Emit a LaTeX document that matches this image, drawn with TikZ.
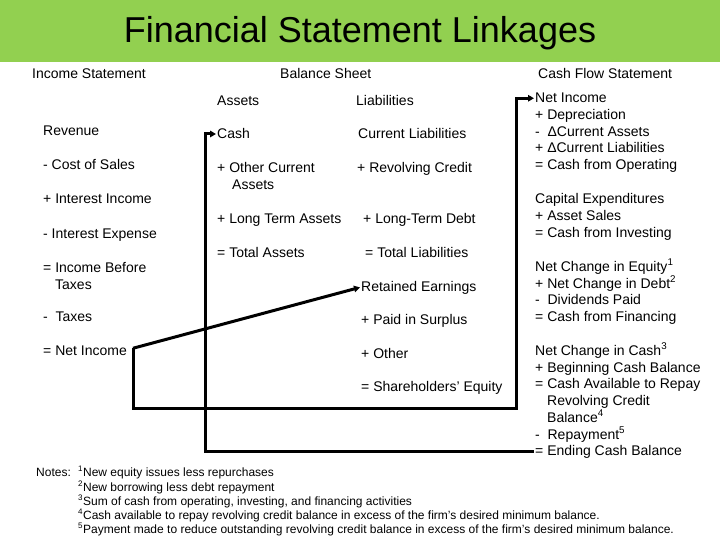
\documentclass[tikz,border=0pt]{standalone}
\usepackage{fontspec}
\setmainfont{Liberation Sans}
\usetikzlibrary{arrows.meta}
\definecolor{bandgreen}{HTML}{92D050}
\tikzset{
  item/.style={anchor=base west,inner sep=1pt,font=\fontsize{14}{16.8}\selectfont},
  note/.style={anchor=base west,inner sep=1pt,font=\fontsize{12}{14.3}\selectfont},
  link/.style={line width=3pt},
  linkarrow/.style={link,-{Triangle[length=6pt,width=6.5pt]}}
}
\begin{document}
\begin{tikzpicture}[x=1pt,y=-1pt]
\useasboundingbox (0,0) rectangle (720,540);
\fill[bandgreen] (0,0) rectangle (720,62);
\node[anchor=base,font=\fontsize{36}{40}\selectfont] (title) at (360,43) {Financial Statement Linkages};
% column heads
\node[item] (ishead) at (31,79) {Income Statement};
\node[item] (bshead) at (279,79) {Balance Sheet};
\node[item] (cfhead) at (537,79) {Cash Flow Statement};
% income statement
\node[item] (isrev) at (42,136) {Revenue};
\node[item] (iscos) at (42,170) {- Cost of Sales};
\node[item] (isii) at (42,204) {+ Interest Income};
\node[item] (isie) at (42,238) {- Interest Expense};
\node[item] (isibt) at (42,272) {= Income Before};
\node[item] (isibtb) at (54,289) {Taxes};
\node[item] (istax) at (42,321) {-~ Taxes};
\node[item] (isni) at (42,355) {= Net Income};
% balance sheet, assets
\node[item] (bsa) at (216,106) {Assets};
\node[item] (bscash) at (216,139) {Cash};
\node[item] (bsoca) at (216,173) {+ Other Current};
\node[item] (bsocab) at (231,190) {Assets};
\node[item] (bslta) at (216,223) {+ Long Term Assets};
\node[item] (bsta) at (216,257) {= Total Assets};
% balance sheet, liabilities and equity
\node[item] (bsl) at (355,106) {Liabilities};
\node[item] (bscl) at (357,139) {Current Liabilities};
\node[item] (bsrc) at (356,173) {+ Revolving Credit};
\node[item] (bsltd) at (362,223) {+ Long-Term Debt};
\node[item] (bstl) at (364,257) {= Total Liabilities};
\node[item] (bsre) at (360,291) {Retained Earnings};
\node[item] (bspis) at (360,324) {+ Paid in Surplus};
\node[item] (bsoth) at (360,358) {+ Other};
\node[item] (bsse) at (360,391) {= Shareholders' Equity};
% cash flow statement
\node[item] (cfni) at (534,103) {Net Income};
\node[item] (cfdep) at (534,120) {+ Depreciation};
\node[item] (cfca) at (534,136.5) {-~ ΔCurrent Assets};
\node[item] (cfcl) at (534,153) {+ ΔCurrent Liabilities};
\node[item] (cfop) at (534,170) {= Cash from Operating};
\node[item] (cfcap) at (534,204) {Capital Expenditures};
\node[item] (cfas) at (534,220.5) {+ Asset Sales};
\node[item] (cfinv) at (534,237) {= Cash from Investing};
\node[item] (cfeq) at (534,271) {Net Change in Equity\textsuperscript{1}};
\node[item] (cfdebt) at (534,288) {+ Net Change in Debt\textsuperscript{2}};
\node[item] (cfdiv) at (534,304.5) {-~ Dividends Paid};
\node[item] (cffin) at (534,321) {= Cash from Financing};
\node[item] (cfnc) at (534,355) {Net Change in Cash\textsuperscript{3}};
\node[item] (cfbeg) at (534,372) {+ Beginning Cash Balance};
\node[item] (cfavail) at (534,388.5) {= Cash Available to Repay};
\node[item] (cfrc) at (546,405) {Revolving Credit};
\node[item] (cfbal) at (546,422) {Balance\textsuperscript{4}};
\node[item] (cfrep) at (534,439) {-~ Repayment\textsuperscript{5}};
\node[item] (cfend) at (534,455) {= Ending Cash Balance};
% notes
\node[note] (notes) at (35,476) {Notes:};
\node[note] (note1) at (77,476) {\textsuperscript{1}New equity issues less repurchases};
\node[note] (note2) at (77,491) {\textsuperscript{2}New borrowing less debt repayment};
\node[note] (note3) at (77,505) {\textsuperscript{3}Sum of cash from operating, investing, and financing activities};
\node[note] (note4) at (77,519) {\textsuperscript{4}Cash available to repay revolving credit balance in excess of the firm's desired minimum balance.};
\node[note] (note5) at (77,533) {\textsuperscript{5}Payment made to reduce outstanding revolving credit balance in excess of the firm's desired minimum balance.};
% linkages
\coordinate (nibend) at ([xshift=5pt,yshift=2pt]isni.east);
\coordinate (eqcorner) at (516,408);
\coordinate (cashline) at (205,300);
\draw[linkarrow] (nibend) -- (bsre.west);
\draw[linkarrow] (nibend) |- (eqcorner) |- (cfni.west);
\draw[linkarrow] (cfend.west) -| (cashline) |- (bscash.west);
\end{tikzpicture}
\end{document}
